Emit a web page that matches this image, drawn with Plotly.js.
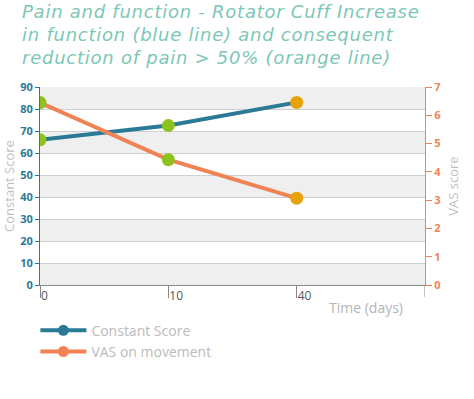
<!DOCTYPE html>
<html><head><meta charset="utf-8">
<script src="https://cdn.plot.ly/plotly-3.0.1.min.js"></script>
<style>html,body{margin:0;padding:0;background:#fff}.gtitle{letter-spacing:0.75px}</style>
</head><body><div id="chart" style="width:474px;height:399px"></div>
<script>
const days = ["0", "10", "40"];
const constantScore = [66, 72.5, 83];
const vasMovement = [6.45, 4.43, 3.07];
const pointColors = ["#8dc21f", "#8dc21f", "#e8a20c"];
const leftTicks = [0,10,20,30,40,50,60,70,80,90];
const rightTicks = [0,1,2,3,4,5,6,7];

const blue = "#2a7a96", orange = "#ef8354";

const bands = [];
for (let v = 0; v < 90; v += 20) {
  bands.push({type:"rect", xref:"paper", yref:"y", x0:0, x1:1, y0:v, y1:v+10, fillcolor:"#efefef", line:{width:0}, layer:"below"});
}
bands.push({type:"line", xref:"x", yref:"paper", x0:3, x1:3, y0:0, y1:-0.06, line:{color:"#888", width:1}});

const data = [
  {x: days, y: constantScore, name: "Constant Score", mode: "lines+markers", line:{color:blue, width:4}, marker:{color:blue, size:11}, yaxis:"y"},
  {x: days, y: vasMovement, name: "VAS on movement", mode: "lines+markers", line:{color:orange, width:4}, marker:{color:orange, size:11}, yaxis:"y2"},
  {x: days, y: constantScore, mode: "markers", marker:{color:pointColors, size:13}, yaxis:"y", showlegend:false},
  {x: days, y: vasMovement, mode: "markers", marker:{color:pointColors, size:13}, yaxis:"y2", showlegend:false}
];

const layout = {
  width: 474, height: 399,
  margin: {l:40, r:49, t:87, b:114},
  paper_bgcolor: "#fff", plot_bgcolor: "#fff",
  showlegend: true,
  title: {text: "Pain and function - Rotator Cuff Increase<br>in function (blue line) and consequent<br>reduction of pain &gt; 50% (orange line)",
    x: 22/474, xanchor: "left", y: 0.956, yanchor: "top",
    font: {family: "DejaVu Sans, sans-serif", size: 18, color: "#7cc7b5", style: "italic"}},
  xaxis: {type: "category", range: [0, 3], showgrid: false, zeroline: false,
    showline: true, linecolor: "#888", linewidth: 1,
    ticks: "outside", ticklen: 12, tickcolor: "#888",
    ticklabelposition: "outside right",
    tickfont: {family: "Open Sans, sans-serif", size: 12, color: "#555"}},
  yaxis: {range: [0, 90], tickvals: leftTicks, showgrid: true, gridcolor: "#cfcfcf", gridwidth: 1, zeroline: false,
    showline: true, linecolor: blue, linewidth: 1, ticks: "outside", ticklen: 4, tickcolor: blue,
    tickfont: {family: "Open Sans, sans-serif", size: 11, color: blue, weight: "bold"},
    title: {text: "Constant Score", font: {family: "Open Sans, sans-serif", size: 13, color: "#c0c0c0"}, standoff: 6}},
  yaxis2: {range: [0, 7], tickvals: rightTicks, overlaying: "y", side: "right", showgrid: false, zeroline: false,
    showline: true, linecolor: orange, linewidth: 1, ticks: "outside", ticklen: 6, tickcolor: orange,
    tickfont: {family: "Open Sans, sans-serif", size: 11, color: orange, weight: "bold"},
    title: {text: "VAS score", font: {family: "Open Sans, sans-serif", size: 13, color: "#c0c0c0"}, standoff: 8}},
  shapes: bands,
  annotations: [{text: "Time (days)", xref: "paper", yref: "paper", x: (405 - 40) / 385, y: -0.055, xanchor: "right", yanchor: "top", showarrow: false,
    font: {family: "Open Sans, sans-serif", size: 14, color: "#b5b5b5"}}],
  legend: {x: -0.012, y: -0.15, xanchor: "left", yanchor: "top", orientation: "v",
    font: {family: "Open Sans, sans-serif", size: 14, color: "#bbbbbb"}, itemwidth: 46, tracegroupgap: 6}
};

Plotly.newPlot("chart", data, layout, {displayModeBar: false});
</script></body></html>
